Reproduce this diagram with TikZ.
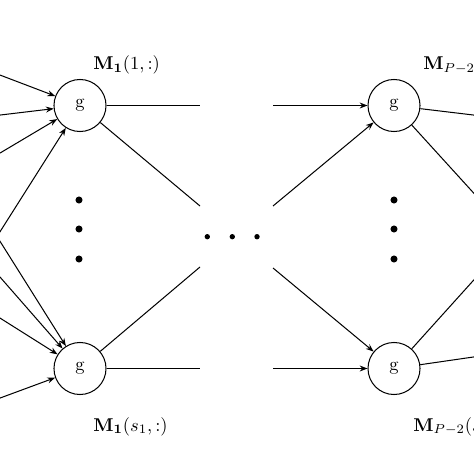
\documentclass[tikz,border=0pt]{standalone}
\usetikzlibrary{arrows.meta}
\begin{document}
\begin{tikzpicture}[x=0.54pt,y=-0.54pt,
  gnode/.style={draw,circle,minimum size=28.1pt,inner sep=0pt,line width=0.55pt},
  arr/.style={-{Stealth[length=4.2pt,width=3.2pt]},line width=0.55pt},
  ln/.style={line width=0.55pt},
  bigdot/.style={fill=black,circle,inner sep=0pt,minimum size=3.8pt},
  smalldot/.style={fill=black,circle,inner sep=0pt,minimum size=2.9pt},
  lab/.style={anchor=base west,inner sep=0pt}]
\clip (0,0) rectangle (474,474);
% nodes
\node[gnode] (L1) at (80,105.5) {g};
\node[gnode] (L2) at (80,368.5) {g};
\node[gnode] (R1) at (394,105.5) {g};
\node[gnode] (R2) at (394,368.5) {g};
% labels
\node[lab] (tL1) at (93,70) {$\mathbf{M_1}(1,:)$};
\node[lab] (tL2) at (93,431) {$\mathbf{M_1}(s_1,:)$};
\node[lab] (tR1) at (423,70) {$\mathbf{M}_{P-2}(1,:)$};
\node[lab] (tR2) at (413,431) {$\mathbf{M}_{P-2}(s_{P-2},:)$};
% input sources (off left)
\coordinate (i1) at (-10,71.25);
\coordinate (i2) at (-10,116.25);
\coordinate (i3) at (-10,159);
\coordinate (i4) at (-3,236.5);
\coordinate (i5) at (-10,265.6);
\coordinate (i6) at (-10,311.75);
\coordinate (i7) at (-10,401.75);
\draw[arr] (i1) -- (L1);
\draw[arr] (i2) -- (L1);
\draw[arr] (i3) -- (L1);
\draw[arr] (i4) -- (L1);
\draw[arr] (i4) -- (L2);
\draw[arr] (i5) -- (L2);
\draw[arr] (i6) -- (L2);
\draw[arr] (i7) -- (L2);
% left outputs
\coordinate (a1) at (200,105.5);
\coordinate (a2) at (200,206);
\coordinate (a3) at (200,267);
\coordinate (a4) at (200,368.5);
\draw[ln] (L1) -- (a1);
\draw[ln] (L1) -- (a2);
\draw[ln] (L2) -- (a3);
\draw[ln] (L2) -- (a4);
% right inputs
\coordinate (b1) at (273,105.5);
\coordinate (b2) at (273,206);
\coordinate (b3) at (273,268);
\coordinate (b4) at (273,368.5);
\draw[arr] (b1) -- (R1);
\draw[arr] (b2) -- (R1);
\draw[arr] (b3) -- (R2);
\draw[arr] (b4) -- (R2);
% right outputs (off right)
\coordinate (o1) at (490,117);
\coordinate (o2) at (490,211);
\coordinate (o3) at (490,262);
\coordinate (o4) at (490,354.6);
\draw[ln] (R1) -- (o1);
\draw[ln] (R1) -- (o2);
\draw[ln] (R2) -- (o3);
\draw[ln] (R2) -- (o4);
% vertical dots
\node[bigdot] (dl1) at (79,200) {};
\node[bigdot] (dl2) at (79,229) {};
\node[bigdot] (dl3) at (79,259) {};
\node[bigdot] (dr1) at (394,200) {};
\node[bigdot] (dr2) at (394,229) {};
\node[bigdot] (dr3) at (394,259) {};
% horizontal dots
\node[smalldot] (h1) at (207.3,236.7) {};
\node[smalldot] (h2) at (232.3,236.7) {};
\node[smalldot] (h3) at (257,236.7) {};
\end{tikzpicture}
\end{document}
